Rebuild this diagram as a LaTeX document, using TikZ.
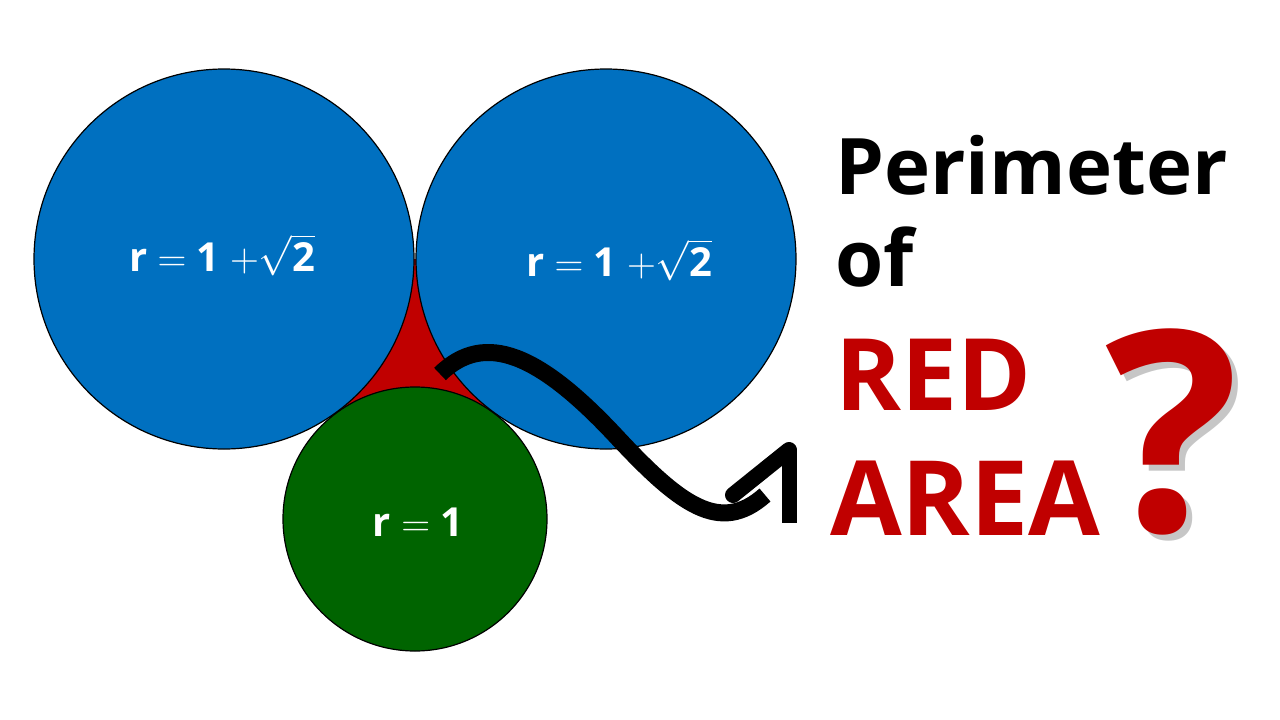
\documentclass[tikz,border=0pt]{standalone}
\usepackage{fix-cm}
\usepackage{fontspec}
\setmainfont{Open Sans}
\DeclareMathSizes{40}{40}{28}{20}
\begin{document}
\begin{tikzpicture}[x=1pt,y=-1pt,
  circ/.style={draw=black,line width=1.2pt},
  lbl/.style={text=white,font=\fontsize{40}{44}\selectfont\bfseries},
  big/.style={anchor=base west,inner sep=0pt,font=\fontsize{78}{90}\selectfont\bfseries}]
\useasboundingbox (0,0) rectangle (1280,720);
\definecolor{bl}{RGB}{0,112,192}
\definecolor{gr}{RGB}{0,100,0}
\definecolor{rd}{RGB}{192,0,0}
\coordinate (A) at (224,259);
\coordinate (B) at (606,259);
\coordinate (C) at (415,519);
\fill[rd] (A) -- (B) -- (C) -- cycle;
\draw[circ,fill=bl] (A) circle (190);
\draw[circ,fill=bl] (B) circle (190);
\draw[circ,fill=gr] (C) circle (132);
\node[lbl] (la) at (222,255) {r $=$ 1 $+\sqrt{\mathbf{2}}$};
\node[lbl] (lb) at (619,260) {r $=$ 1 $+\sqrt{\mathbf{2}}$};
\node[lbl] (lc) at (418,522) {r $=$ 1};
\coordinate (s) at (440,374);
\coordinate (t) at (789,450);
\draw[line width=17pt] (s) .. controls (485,330) and (540,355) .. (615,435)
  .. controls (680,505) and (720,535) .. (765,495);
\draw[line width=16pt,line cap=round] (733,495) -- (t);
\draw[line width=15pt] (t) -- (789,523);
\node[big] (p) at (835,194) {Perimeter};
\node[big] (o) at (835,286) {of};
\node[big,text=rd,font=\fontsize{100}{110}\selectfont\bfseries] (r) at (835,410) {RED};
\node[big,text=rd,font=\fontsize{104}{110}\selectfont\bfseries] (a) at (830,535) {AREA};
\node[text=gray!45,font=\fontsize{280}{290}\selectfont\bfseries] (q2) at (1178,438) {?};
\node[text=rd,font=\fontsize{280}{290}\selectfont\bfseries] (q) at (1172,432) {?};
\end{tikzpicture}
\end{document}
